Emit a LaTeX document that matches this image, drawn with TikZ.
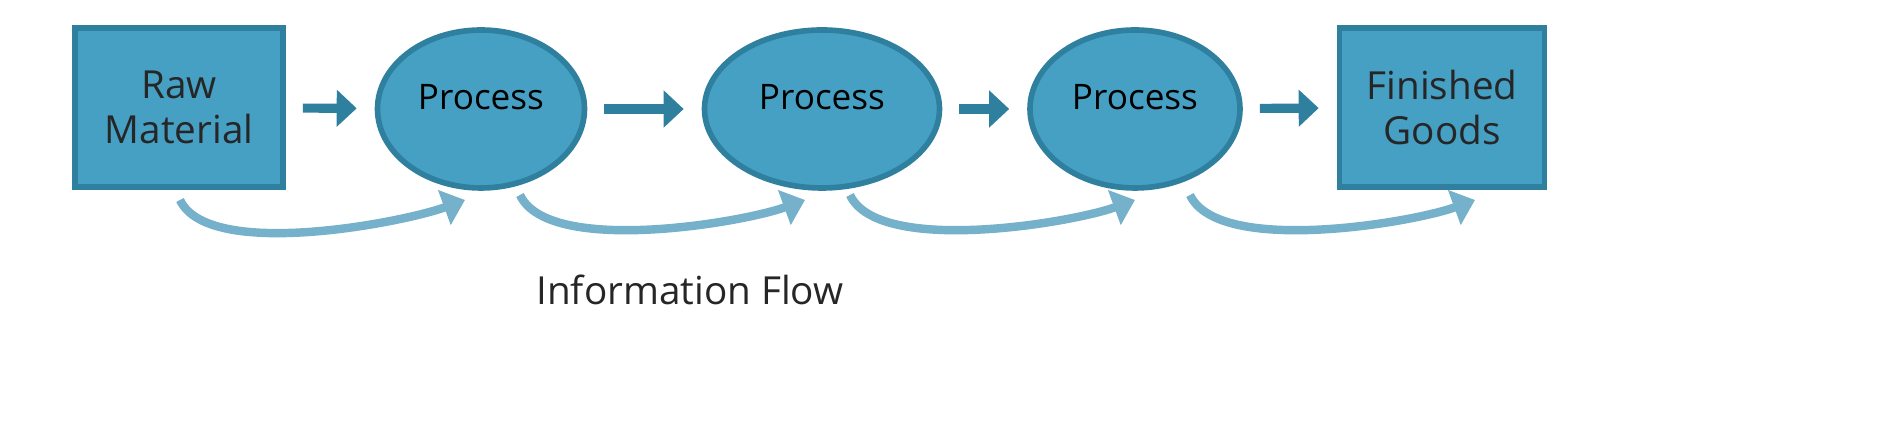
\documentclass[tikz,border=0pt]{standalone}
\usepackage{fontspec}
\setmainfont{Open Sans}
\usetikzlibrary{arrows.meta, shapes.geometric, positioning, calc}
\definecolor{stepfill}{HTML}{45A0C4}
\definecolor{stepdraw}{HTML}{2F7F9E}
\definecolor{flowdark}{HTML}{3A8FB3}
\tikzset{
  stepnode/.style={
    draw=stepdraw, line width=1.6pt, fill=stepfill, align=center,
    font=\fontsize{11}{13}\selectfont, text=black!85
  },
  box/.style={stepnode, rectangle, minimum width=20.8mm, minimum height=15.9mm},
  proc/.style={stepnode, ellipse, inner sep=0pt, minimum height=15.8mm},
  push/.style={-{Triangle[length=2mm,width=3.6mm]}, line width=2.6pt, draw=stepdraw,
    shorten <=1.7mm, shorten >=1.8mm},
  info/.style={-{Triangle[length=2.2mm,width=3.6mm]}, line width=2.4pt, draw=flowdark!70}
}

\begin{document}
\begin{tikzpicture}
    \useasboundingbox (0,0) rectangle (18.78,4.25);
    
    % Steps
    \node[box] (raw) at (1.79,3.175) {Raw\\Material};
    \node[proc, minimum width=20.7mm, label={[yshift=1.2mm]center:Process}] (p1) at (4.81,3.16) {};
    \node[proc, minimum width=23.5mm, label={[yshift=1.2mm]center:Process}] (p2) at (8.22,3.16) {};
    \node[proc, minimum width=21mm, label={[yshift=1.2mm]center:Process}] (p3) at (11.35,3.16) {};
    \node[box, minimum width=20.5mm] (fin) at (14.42,3.175) {Finished\\Goods};
    
    \draw[push] (raw) -- (p1);
    \draw[push] (p1) -- (p2);
    \draw[push] (p2) -- (p3);
    \draw[push] (p3) -- (fin);
    
    % Information flow
    \coordinate (a0) at (1.8,2.25);  \coordinate (b0) at (4.65,2.25);
    \coordinate (a1) at (5.2,2.3);   \coordinate (b1) at (8.05,2.25);
    \coordinate (a2) at (8.5,2.3);   \coordinate (b2) at (11.35,2.25);
    \coordinate (a3) at (11.9,2.3);  \coordinate (b3) at (14.75,2.25);
    \foreach \i in {0,...,3}
      \draw[info] (a\i) to[out=-65,in=200,looseness=0.6] (b\i);
    
    \node[font=\fontsize{11}{13}\selectfont, text=black!85] (flow) at (6.9,1.35) {Information Flow};
\end{tikzpicture}
\end{document}
